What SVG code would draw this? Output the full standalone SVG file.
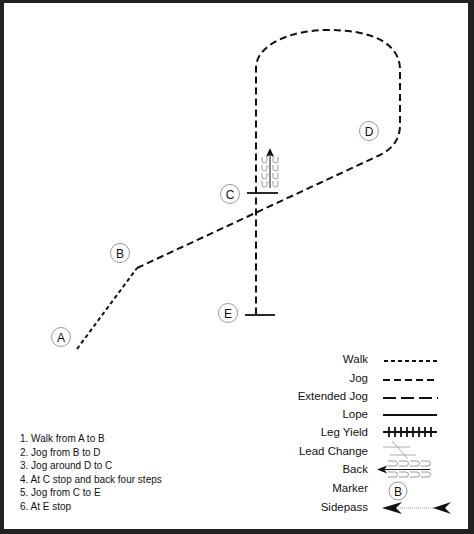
<svg xmlns="http://www.w3.org/2000/svg" width="474" height="534" viewBox="0 0 474 534">
<style>
  text{font-family:"Liberation Sans",Arial,sans-serif;fill:#111}
  .lbl{font-size:11.5px;text-anchor:end}
  .ins{font-size:10px}
  .mk circle{fill:#fff;stroke:#999;stroke-width:1}
  .mk text{font-size:12px;text-anchor:middle}
  .walk{fill:none;stroke:#111;stroke-width:2;stroke-dasharray:4 3}
  .jog{fill:none;stroke:#111;stroke-width:2;stroke-dasharray:7 4}
  .xjog{fill:none;stroke:#111;stroke-width:2;stroke-dasharray:13 5}
  .solid{fill:none;stroke:#111;stroke-width:1.8}
  .gray{fill:none;stroke:#aaa;stroke-width:1}
  .hoof{fill:none;stroke:#999;stroke-width:1}
</style>
<defs>
  <path id="uh" d="M0,0 V3.5 A2.5,2.5 0 0 0 5,3.5 V0"/>
  <path id="ch" d="M0,0 H7 A2.5,2.5 0 0 1 7,5 H0"/>
</defs>
<rect x="0" y="0" width="474" height="534" fill="#222"/>
<rect x="4" y="3" width="464" height="526" fill="#fff"/>

<g id="connectors">
  <path id="walk-a-b" class="walk" d="M77,349 L137,268"/>
  <path id="jog-route" class="jog" d="M137,268 L380,155 Q400,145 400,125 L400,70 C400,42 370,30 328,30 C290,30 256,45 256,68 L256,315"/>
  <line id="stop-c" class="solid" x1="247" y1="193" x2="278" y2="193"/>
  <line id="stop-e" class="solid" x1="245" y1="315" x2="275" y2="315"/>
  <g id="back-c">
    <line x1="270" y1="154" x2="270" y2="188" stroke="#111" stroke-width="1"/>
    <path d="M270,148 L266,157 L270,155 L274,157 Z" fill="#111"/>
    <g class="hoof">
      <use href="#uh" x="262" y="157"/><use href="#uh" x="262" y="165"/><use href="#uh" x="262" y="173"/><use href="#uh" x="262" y="181"/>
      <use href="#uh" x="273" y="157"/><use href="#uh" x="273" y="165"/><use href="#uh" x="273" y="173"/><use href="#uh" x="273" y="181"/>
    </g>
  </g>
</g>

<g id="marker-a" class="mk"><circle cx="61" cy="337" r="9.5"/><text x="61" y="341.5">A</text></g>
<g id="marker-b" class="mk"><circle cx="120" cy="253" r="9.5"/><text x="120" y="257.5">B</text></g>
<g id="marker-c" class="mk"><circle cx="230" cy="194" r="9.5"/><text x="230" y="198.5">C</text></g>
<g id="marker-d" class="mk"><circle cx="369" cy="131" r="9.5"/><text x="369" y="135.5">D</text></g>
<g id="marker-e" class="mk"><circle cx="228" cy="313" r="9.5"/><text x="228" y="317.5">E</text></g>

<g id="legend">
  <text class="lbl" x="368" y="363">Walk</text>
  <line class="walk" x1="384" y1="361" x2="438" y2="361"/>
  <text class="lbl" x="368" y="382">Jog</text>
  <line class="jog" x1="383" y1="380" x2="438" y2="380"/>
  <text class="lbl" x="368" y="400">Extended Jog</text>
  <line class="xjog" x1="383" y1="398" x2="438" y2="398"/>
  <text class="lbl" x="368" y="418">Lope</text>
  <line class="solid" x1="383" y1="415" x2="437" y2="415"/>
  <text class="lbl" x="368" y="436">Leg Yield</text>
  <g class="solid" stroke-width="1.4">
    <line x1="383" y1="432" x2="437" y2="432"/>
    <line x1="389" y1="427" x2="389" y2="437"/><line x1="395" y1="427" x2="395" y2="437"/>
    <line x1="401" y1="427" x2="401" y2="437"/><line x1="407" y1="427" x2="407" y2="437"/>
    <line x1="413" y1="427" x2="413" y2="437"/><line x1="419" y1="427" x2="419" y2="437"/>
    <line x1="425" y1="427" x2="425" y2="437"/><line x1="431" y1="427" x2="431" y2="437"/>
  </g>
  <text class="lbl" x="368" y="455">Lead Change</text>
  <g class="gray">
    <line x1="383" y1="447" x2="410" y2="447"/>
    <line x1="390" y1="455" x2="416" y2="455"/>
    <line x1="392" y1="441" x2="408" y2="459"/>
  </g>
  <text class="lbl" x="368" y="473">Back</text>
  <line x1="383" y1="469.5" x2="430" y2="469.5" stroke="#111" stroke-width="1"/>
  <path d="M377,469.5 L387,465.5 L384.5,469.5 L387,473.5 Z" fill="#111"/>
  <g class="hoof">
    <use href="#ch" x="388" y="461"/><use href="#ch" x="399" y="461"/><use href="#ch" x="410" y="461"/><use href="#ch" x="421" y="461"/>
    <use href="#ch" x="388" y="472"/><use href="#ch" x="399" y="472"/><use href="#ch" x="410" y="472"/><use href="#ch" x="421" y="472"/>
  </g>
  <text class="lbl" x="368" y="492">Marker</text>
  <g class="mk"><circle cx="398" cy="491" r="9"/><text x="398" y="495.5">B</text></g>
  <text class="lbl" x="368" y="511">Sidepass</text>
  <line x1="398" y1="508" x2="436" y2="508" stroke="#999" stroke-width="1" stroke-dasharray="1 1"/>
  <path d="M382,508 L402,502 L396,508 L402,514 Z" fill="#111"/>
  <path d="M433,508 L451,502 L445,508 L451,514 Z" fill="#111"/>
</g>

<g id="instructions">
  <text class="ins" x="20" y="442">1. Walk from A to B</text>
  <text class="ins" x="20" y="455.5">2. Jog from B to D</text>
  <text class="ins" x="20" y="469">3. Jog around D to C</text>
  <text class="ins" x="20" y="482.5">4. At C stop and back four steps</text>
  <text class="ins" x="20" y="496">5. Jog from C to E</text>
  <text class="ins" x="20" y="509.5">6. At E stop</text>
</g>
</svg>
